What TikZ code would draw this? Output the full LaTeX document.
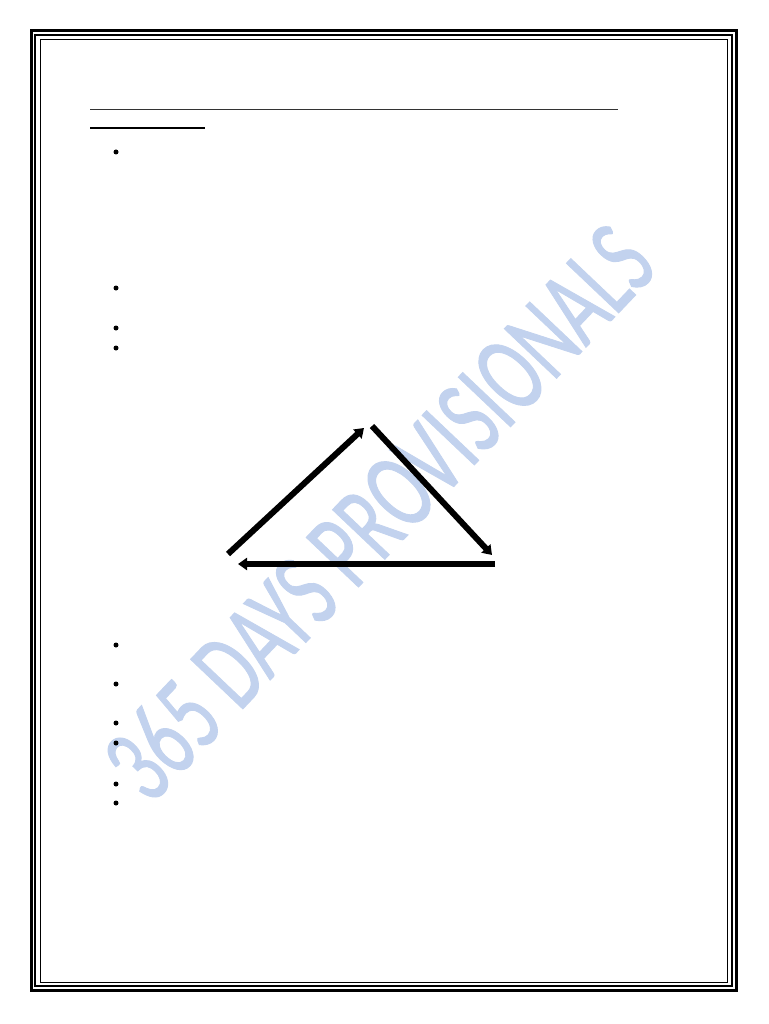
\documentclass[tikz,border=0pt]{standalone}
\usepackage{fontspec}
\newfontfamily\wmfont[FakeBold=1]{Carlito}
\definecolor{wm}{RGB}{194,210,238}
\usetikzlibrary{arrows.meta}
\begin{document}
\begin{tikzpicture}[x=1pt,y=-1pt,
  bul/.style={circle,fill=black,inner sep=0pt,minimum size=5pt},
  tri/.style={line width=6pt,-{Triangle[length=9pt,width=12pt]}}]
\useasboundingbox (0,0) rectangle (768,1024);
\fill[white] (0,0) rectangle (768,1024);
% watermark
\node[text=wm,rotate=46.5,inner sep=0pt] (wmk) at (378,512) {\scalebox{0.66}[1]{\wmfont\fontsize{112}{112}\selectfont 365 DAYS PROVISIONALS}};
% border
\draw[line width=3pt] (31,31) rectangle (736,990);
\draw[line width=2pt] (35,35) rectangle (732,986);
\draw[line width=1pt] (40,40) rectangle (727,982);
% header lines
\coordinate (l1a) at (90,110); \coordinate (l1b) at (618,110);
\draw[line width=1pt,black!80] (l1a) -- (l1b);
\coordinate (l2a) at (90,128); \coordinate (l2b) at (205,128);
\draw[line width=2pt] (l2a) -- (l2b);
% bullets
\foreach \y [count=\i] in {152,288,328,348,645,684,723,743,784,803}
  \node[bul] (b\i) at (116,\y) {};
% triangle
\coordinate (a1) at (228,554); \coordinate (a2) at (364,428);
\coordinate (c1) at (372,426); \coordinate (c2) at (492,555);
\coordinate (d1) at (495,564); \coordinate (d2) at (238,564);
\draw[tri] (a1) -- (a2);
\draw[tri] (c1) -- (c2);
\draw[tri] (d1) -- (d2);
\end{tikzpicture}
\end{document}
